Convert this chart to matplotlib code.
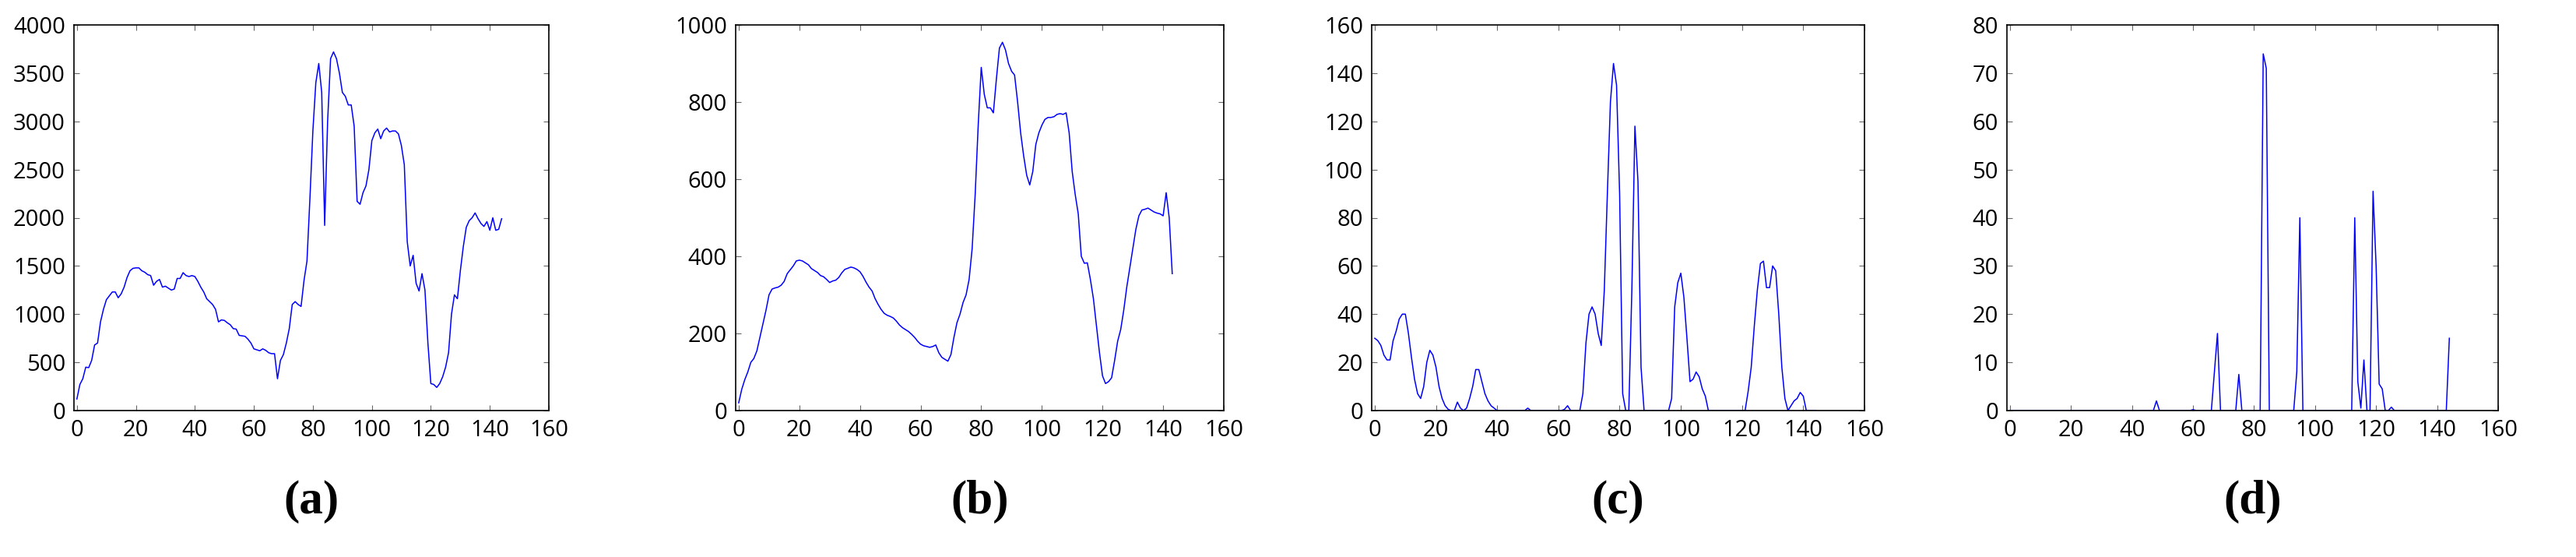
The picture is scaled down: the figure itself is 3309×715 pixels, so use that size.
import matplotlib
matplotlib.use("Agg")
import matplotlib.pyplot as plt

# (a)
a_y = [120, 270, 330, 450, 445, 520, 680, 700, 920, 1050, 1150, 1190, 1230, 1230, 1170,
       1210, 1280, 1380, 1450, 1475, 1480, 1480, 1450, 1435, 1410, 1400, 1300, 1340, 1360,
       1280, 1290, 1270, 1250, 1260, 1370, 1370, 1430, 1400, 1390, 1400, 1390, 1340, 1280,
       1230, 1160, 1130, 1100, 1050, 920, 940, 935, 910, 890, 850, 845, 780, 775, 770, 740,
       700, 640, 630, 620, 640, 625, 600, 590, 590, 330, 520, 580, 700, 850, 1100, 1130,
       1100, 1080, 1350, 1550, 2200, 2900, 3400, 3600, 3300, 1920, 3000, 3650, 3720, 3650,
       3500, 3300, 3260, 3170, 3170, 2950, 2170, 2140, 2260, 2330, 2500, 2800, 2880, 2920,
       2820, 2900, 2930, 2890, 2900, 2900, 2870, 2750, 2550, 1750, 1500, 1610, 1320, 1240,
       1420, 1250, 700, 280, 270, 240, 280, 350, 450, 600, 1000, 1200, 1160, 1450, 1700,
       1900, 1970, 2000, 2050, 1990, 1940, 1910, 1960, 1870, 2000, 1870, 1880, 1990]

# (b)
b_y = [20, 55, 80, 100, 125, 135, 155, 190, 225, 260, 300, 315, 318, 320, 325, 335, 355,
       365, 375, 388, 390, 388, 383, 378, 368, 363, 358, 350, 347, 340, 332, 336, 338, 345,
       357, 366, 369, 372, 370, 366, 360, 348, 333, 320, 310, 290, 275, 262, 252, 247, 244,
       240, 232, 222, 215, 210, 205, 198, 190, 180, 172, 168, 166, 164, 166, 170, 150, 138,
       133, 128, 145, 190, 228, 250, 280, 300, 340, 420, 560, 740, 890, 820, 785, 785, 772,
       860, 940, 955, 935, 900, 880, 870, 800, 720, 660, 610, 585, 620, 690, 720, 740, 755,
       760, 760, 762, 768, 770, 768, 772, 720, 620, 560, 510, 400, 382, 383, 340, 290, 220,
       150, 90, 70, 75, 85, 130, 180, 210, 260, 320, 370, 420, 470, 505, 520, 522, 525, 520,
       515, 512, 510, 505, 565, 500, 355]

# (c)
c_y = [30, 29, 27, 23, 21, 21, 29, 33, 38, 40, 40, 32, 22, 13, 7, 5, 10, 20, 25, 23, 18,
       10, 5, 2, 0.5, 0, 0, 3.5, 1, 0, 1, 5, 10, 17, 17, 12, 7, 4, 2, 1, 0, 0, 0, 0, 0, 0,
       0, 0, 0, 0, 1, 0, 0, 0, 0, 0, 0, 0, 0, 0, 0, 0, 0.5, 2, 0, 0, 0, 0, 7, 28, 40, 43,
       40, 32, 27, 50, 90, 128, 144, 135, 90, 7, 0, 0, 50, 118, 95, 18, 0, 0, 0, 0, 0, 0,
       0, 0, 0, 5, 43, 53, 57, 47, 30, 12, 13, 16, 14, 9, 6, 0, 0, 0, 0, 0, 0, 0, 0, 0, 0,
       0, 0, 0, 8, 18, 35, 50, 61, 62, 51, 51, 60, 58, 40, 18, 5, 0, 2, 4, 5, 7.5, 6, 0, 0,
       0, 0]

# (d)
d_y = [0] * 145
d_spikes = {48: 2, 60: 0.2, 67: 8, 68: 16, 75: 7.5, 83: 74, 84: 71, 94: 8, 95: 40,
            113: 40, 114: 6, 115: 0.5, 116: 10.5, 119: 45.5, 120: 30, 121: 5.5, 122: 4.5,
            125: 0.7, 144: 15}
for k, v in d_spikes.items():
    d_y[k] = v

panels = [
    (a_y, 4000, 500, "(a)", [95, 32, 705, 527]),
    (b_y, 1000, 200, "(b)", [945, 32, 1572, 527]),
    (c_y, 160, 20, "(c)", [1762, 32, 2395, 527]),
    (d_y, 80, 10, "(d)", [2578, 32, 3209, 527]),
]

W, H = 3309, 715
fig = plt.figure(figsize=(W / 100, H / 100), dpi=100)

for ys, ymax, ystep, label, (x0, y0, x1, y1) in panels:
    ax = fig.add_axes([x0 / W, 1 - y1 / H, (x1 - x0) / W, (y1 - y0) / H])
    ax.plot(range(len(ys)), ys, color="#0000ff", lw=1.1)
    ax.set_xlim(-1, 160)
    ax.set_ylim(0, ymax)
    ax.set_xticks(range(0, 161, 20))
    ax.set_yticks(range(0, ymax + 1, ystep))
    ax.tick_params(direction="in", top=True, right=True, length=5, color="#666666",
                   labelsize=21, pad=8)
    for lab in ax.get_xticklabels() + ax.get_yticklabels():
        lab.set_family("Open Sans")
    for s in ax.spines.values():
        s.set_linewidth(1.2)
    fig.text((x0 + x1) / 2 / W, 1 - 644 / H, label, ha="center", va="center",
             fontsize=44, fontweight="bold", family="Liberation Serif")

fig.savefig("out.png", dpi=100)
